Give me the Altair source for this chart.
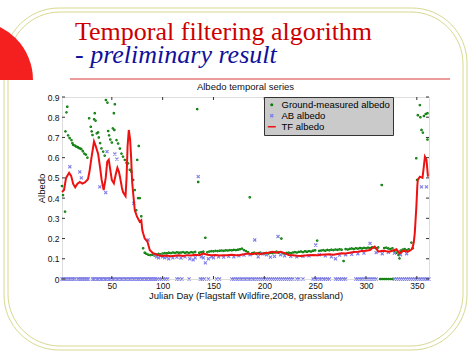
import altair as alt
import pandas as pd

SERIES = ["Ground-measured albedo", "AB albedo", "TF albedo"]

# TF albedo (temporal filtering) line: [day, albedo]
tf_line = [
    [1, 0.43], [3, 0.44], [5, 0.50], [8, 0.525], [10, 0.51], [12, 0.47], [14, 0.453],
    [16, 0.47], [18.5, 0.48], [21, 0.472], [23.5, 0.478], [26.5, 0.493], [28, 0.53],
    [30, 0.60], [32.5, 0.68], [34, 0.66], [36.5, 0.62], [38.5, 0.55], [40, 0.49],
    [42, 0.44], [44, 0.50], [45.5, 0.58], [47, 0.59], [48.5, 0.54], [50, 0.49],
    [52, 0.473], [54, 0.52], [55.5, 0.55], [57, 0.53], [58, 0.506], [60, 0.45],
    [61, 0.43], [63.5, 0.41], [64.5, 0.50], [65.5, 0.655], [66.7, 0.737], [68, 0.69],
    [69, 0.60], [70, 0.48], [71, 0.424], [72.6, 0.34], [74.8, 0.308], [77.5, 0.283],
    [79, 0.29], [80, 0.242], [80.8, 0.226], [82.4, 0.20], [85, 0.185], [87.3, 0.143],
    [90.6, 0.127], [95.5, 0.119], [99, 0.114], [104, 0.116], [108, 0.113], [112, 0.115],
    [116, 0.117], [120, 0.114], [124, 0.118], [128, 0.116], [132, 0.12], [136, 0.118],
    [140, 0.126], [144, 0.12], [148, 0.117], [152, 0.119], [156, 0.116], [160, 0.118],
    [164, 0.117], [168, 0.12], [172, 0.118], [176, 0.119], [180, 0.122], [184, 0.126],
    [188, 0.122], [192, 0.127], [196, 0.124], [200, 0.127], [204, 0.13], [208, 0.135],
    [212, 0.13], [216, 0.135], [220, 0.128], [224, 0.119], [228, 0.117], [232, 0.115],
    [236, 0.114], [240, 0.116], [244, 0.118], [248, 0.119], [252, 0.117], [256, 0.12],
    [260, 0.121], [264, 0.122], [268, 0.12], [272, 0.124], [276, 0.127], [280, 0.126],
    [284, 0.13], [288, 0.133], [292, 0.135], [296, 0.138], [300, 0.14], [304, 0.143],
    [306, 0.152], [308.6, 0.16], [311, 0.145], [312, 0.135], [315, 0.138], [317, 0.14],
    [320, 0.137], [323, 0.135], [326, 0.14], [330, 0.147], [333, 0.127], [335, 0.133],
    [336.6, 0.14], [339, 0.137], [341, 0.135], [344, 0.142], [345.7, 0.152], [347, 0.18],
    [348, 0.226], [349.6, 0.36], [350.5, 0.46], [351, 0.49], [353, 0.506], [355.6, 0.50],
    [357, 0.56], [358, 0.605], [359.5, 0.59], [361, 0.506],
]

# Ground-measured albedo: [day, albedo]
ground_pts = [
    [1, 0.46], [2, 0.415], [4, 0.333], [4.4, 0.73], [5.4, 0.824], [6.2, 0.852], [7, 0.71],
    [8.5, 0.697], [10.3, 0.687], [11.2, 0.672], [12, 0.663], [13.5, 0.66], [15, 0.655],
    [16.5, 0.652], [17.5, 0.648], [19, 0.645], [20, 0.642], [21.5, 0.632], [23, 0.62],
    [24.5, 0.615], [26, 0.60], [27.7, 0.795], [29.3, 0.753], [30.2, 0.73], [31, 0.712],
    [32.6, 0.79], [33.2, 0.82], [34, 0.783], [35.2, 0.72], [36.5, 0.725], [37.2, 0.70],
    [38.5, 0.672], [39.8, 0.646], [41.5, 0.63], [43, 0.61], [44.2, 0.885], [45.7, 0.872],
    [46.4, 0.732], [47.3, 0.71], [48.5, 0.69], [50, 0.675], [51, 0.745], [52, 0.82],
    [52.5, 0.737], [53, 0.864], [54.6, 0.687], [56.2, 0.67], [57.9, 0.645], [59.5, 0.62],
    [61, 0.605], [62.8, 0.589], [64.5, 0.575], [66, 0.572], [67.7, 0.54], [69.3, 0.53],
    [71, 0.49], [72.5, 0.44], [74, 0.34], [75, 0.589], [75.8, 0.40], [76.5, 0.658],
    [77.5, 0.40], [79, 0.31], [80.8, 0.152], [82.4, 0.13],
    [84, 0.125], [86, 0.12], [88, 0.118], [90, 0.12], [92, 0.117], [94, 0.121], [96, 0.124],
    [98, 0.122], [100, 0.126], [102, 0.128], [104, 0.127], [106, 0.13], [108, 0.128],
    [110, 0.131], [112, 0.129], [114, 0.132], [116, 0.13], [118, 0.131], [120, 0.133],
    [122, 0.13], [124, 0.132], [126, 0.129], [128, 0.133], [130, 0.131], [132, 0.134],
    [134, 0.84], [135, 0.48], [136, 0.13], [138, 0.133], [140, 0.135], [142, 0.204],
    [144, 0.132], [146, 0.136], [148, 0.138], [150, 0.137], [152, 0.139], [154, 0.138],
    [156, 0.14], [158, 0.141], [160, 0.139], [162, 0.142], [164, 0.141], [166, 0.143],
    [168, 0.142], [170, 0.144], [172, 0.143], [174, 0.145], [176, 0.147], [178, 0.15],
    [180, 0.143], [182, 0.138], [184, 0.132], [185.7, 0.404], [188, 0.128], [190, 0.13],
    [192, 0.125], [194, 0.128], [196, 0.13], [198, 0.124], [200, 0.127], [202, 0.129],
    [204, 0.126], [206, 0.13], [208, 0.128], [210, 0.132], [212, 0.135], [214, 0.13],
    [216.8, 0.20], [218, 0.128], [220, 0.126], [222, 0.129], [224, 0.13], [226, 0.127],
    [228, 0.131], [230, 0.133], [232, 0.131], [234, 0.134], [236, 0.136], [238, 0.133],
    [240, 0.137], [242, 0.135], [244, 0.138], [246, 0.136], [248, 0.14], [250, 0.142],
    [252, 0.19], [254, 0.139], [256, 0.141], [258, 0.143], [260, 0.14], [262, 0.144],
    [264, 0.142], [266, 0.145], [268, 0.143], [270, 0.146], [272, 0.144], [274, 0.147],
    [276, 0.145], [278, 0.089], [280, 0.148], [282, 0.146], [284, 0.149], [286, 0.151],
    [288, 0.148], [290, 0.152], [292, 0.15], [294, 0.153], [296, 0.151], [298, 0.154],
    [300, 0.152], [302, 0.155], [304, 0.153], [306, 0.157], [308, 0.155], [310, 0.152],
    [312, 0.156], [315.5, 0.465], [318, 0.153], [320, 0.155], [322, 0.151], [324, 0.148],
    [326, 0.152], [328, 0.14], [330, 0.13], [332, 0.119], [333, 0.102], [334, 0.14],
    [336, 0.145], [338, 0.148], [340, 0.143], [342, 0.147], [344.7, 0.18], [346, 0.152],
    [349.5, 0.597], [350.3, 0.49], [351, 0.81], [353, 0.86], [353.5, 0.80], [354.6, 0.737],
    [356, 0.724], [357, 0.806], [358.8, 0.816], [360.5, 0.82], [360.5, 0.69],
]
ground_zero_days = [314, 316, 318, 320, 322, 324, 326]

# AB albedo: [day, albedo]
ab_pts = [
    [8.7, 0.555], [18.5, 0.53], [20, 0.50], [38.2, 0.456], [44, 0.427], [45.3, 0.63],
    [53, 0.618], [55, 0.593], [71.6, 0.374], [85.7, 0.193],
    [92, 0.12], [94, 0.11], [96, 0.105], [98, 0.115], [100, 0.11], [102, 0.105],
    [104, 0.11], [106, 0.10], [110, 0.105], [114, 0.108], [118, 0.104], [122, 0.11],
    [126.7, 0.10], [130, 0.095], [132, 0.105], [135, 0.506], [138, 0.11], [140, 0.105],
    [142, 0.08], [145, 0.10], [148, 0.11], [150, 0.105], [155, 0.11], [160, 0.108],
    [165, 0.112], [170, 0.11], [175, 0.115], [180, 0.118], [186, 0.12], [190.6, 0.193],
    [194, 0.11], [198, 0.125], [202, 0.12], [206, 0.108], [210, 0.112], [213.5, 0.21],
    [216, 0.12], [220, 0.115], [226, 0.112], [232, 0.11], [238, 0.112], [244, 0.115],
    [250.6, 0.168], [254, 0.12], [260, 0.115], [266, 0.11], [270, 0.10], [274, 0.118],
    [280, 0.12], [286, 0.122], [292, 0.125], [298, 0.128], [304, 0.176], [310, 0.13],
    [316, 0.125], [322, 0.132], [328, 0.128], [334, 0.12], [340, 0.125],
    [354.6, 0.456], [359.5, 0.456],
]
ab_zero_days = [
    1, 2, 3, 5, 6, 7, 9, 10, 11, 13, 14, 17, 18, 19, 21, 22, 23, 25, 26, 27, 31, 32, 33, 35,
    36, 37, 39, 40, 41, 43, 44, 45, 47, 48, 49, 51, 52, 53, 55, 56, 57, 59, 60, 61, 63, 64,
    65, 67, 68, 69, 71, 72, 73, 75, 76, 77, 79, 80, 81, 83, 84, 85, 87, 88, 89, 91, 92, 93,
    95, 97, 99, 101, 103, 105, 114, 116, 119, 126, 137, 139, 141, 145, 153, 156, 168, 170,
    172, 174, 176, 178, 180, 182, 184, 186, 188, 190, 192, 194, 196, 198, 200, 202, 204,
    206, 208, 210, 212, 214, 216, 218, 220, 222, 224, 226, 228, 232, 234, 238, 248, 250,
    252, 254, 256, 258, 260, 262, 264, 270, 272, 274, 276, 278, 280, 290, 292, 294, 296,
    298, 300, 302, 304, 306, 308, 310, 328, 330, 332, 334, 336, 338, 340, 342, 344, 346,
    348, 350, 352, 354, 356, 358, 360, 362,
]

x_ticks = [50, 100, 150, 200, 250, 300, 350]
y_ticks = [0, 0.1, 0.2, 0.3, 0.4, 0.5, 0.6, 0.7, 0.8, 0.9]

# ---- tables ----
rows = []
for d, v in ground_pts:
    rows.append({"day": d, "val": v, "series": SERIES[0]})
for d in ground_zero_days:
    rows.append({"day": d, "val": 0.0, "series": SERIES[0]})
for d, v in ab_pts:
    rows.append({"day": d, "val": v, "series": SERIES[1]})
for d in ab_zero_days:
    rows.append({"day": d, "val": 0.0, "series": SERIES[1]})
pts_df = pd.DataFrame(rows)
tf_df = pd.DataFrame(tf_line, columns=["day", "val"])
xt_df = pd.DataFrame({"t": x_ticks})
yt_df = pd.DataFrame({"v": y_ticks})
one = pd.DataFrame({"k": [0]})

W, H = 367, 182
FONT = "Liberation Sans"
xs = alt.Scale(domain=[1, 362], nice=False, zero=False)
ys = alt.Scale(domain=[0, 0.9], nice=False)

xaxis = alt.Axis(values=x_ticks, title="Julian Day (Flagstaff Wildfire,2008, grassland)",
                 grid=False, domain=False, ticks=False, labelFontSize=8.5, labelFont=FONT,
                 labelColor="#111", labelPadding=2, titleFontSize=9.5, titleFont=FONT,
                 titleFontWeight="normal", titleColor="#111", titlePadding=1, labelFlush=False)
yaxis = alt.Axis(values=y_ticks, title="Albedo",
                 labelExpr="datum.value == 0 ? '0' : format(datum.value, '.1f')",
                 grid=False, domain=False, ticks=False, labelFontSize=8.5, labelFont=FONT,
                 labelColor="#111", labelPadding=3, titleFontSize=9.5, titleFont=FONT,
                 titleFontWeight="normal", titleColor="#111", titlePadding=1)

leg = alt.Legend(title=None, orient="none", legendX=202, legendY=0, fillColor="#cacaca",
                 strokeColor="#333", padding=3, labelFontSize=9.5, labelFont=FONT,
                 labelColor="#000", rowPadding=0, symbolStrokeWidth=1.5, labelOffset=5)

# ---- decorations ----
border_outer = alt.Chart(one).mark_rect(filled=False, stroke="#d8d890", strokeWidth=1,
                                        cornerRadius=55).encode(
    x=alt.value(-58), x2=alt.value(405), y=alt.value(-89), y2=alt.value(253))
border_inner = alt.Chart(one).mark_rect(filled=False, stroke="#d8d890", strokeWidth=1,
                                        cornerRadius=52).encode(
    x=alt.value(-54), x2=alt.value(401), y=alt.value(-85), y2=alt.value(249))
red_arc = alt.Chart(one).mark_arc(theta=0, theta2=1.5708, outerRadius=59,
                                  color="#f42020").encode(x=alt.value(-88), y=alt.value(-17))
underline = alt.Chart(one).mark_rule(color="#e47a7a", strokeWidth=1.6).encode(
    x=alt.value(8), x2=alt.value(388), y=alt.value(-18))
title1 = alt.Chart(one).mark_text(text="Temporal filtering algorithm", font="Liberation Serif",
                                  fontSize=26, color="#cc0000", align="left",
                                  baseline="alphabetic").encode(x=alt.value(13), y=alt.value(-57.5))
title2 = alt.Chart(one).mark_text(text="- preliminary result", font="Liberation Serif",
                                  fontSize=26, fontStyle="italic", color="#10109a", align="left",
                                  baseline="alphabetic").encode(x=alt.value(13), y=alt.value(-34))
plot_title = alt.Chart(one).mark_text(text="Albedo temporal series", font=FONT, fontSize=9.5,
                                      color="#111", align="center",
                                      baseline="alphabetic").encode(x=alt.value(W / 2),
                                                                    y=alt.value(-7))

# ---- data layers ----
points = alt.Chart(pts_df).mark_point(filled=False, strokeWidth=1.1, opacity=1).encode(
    x=alt.X("day:Q", scale=xs, axis=xaxis),
    y=alt.Y("val:Q", scale=ys, axis=yaxis),
    color=alt.Color("series:N", scale=alt.Scale(domain=SERIES,
                    range=["#0a7d0a", "#7f7fe8", "#ee1111"]), legend=leg),
    shape=alt.Shape("series:N", scale=alt.Scale(domain=SERIES,
                    range=["circle", "M-1,-1L1,1M-1,1L1,-1", "M-2,0L2,0"]), legend=leg),
    size=alt.Size("series:N", scale=alt.Scale(domain=SERIES, range=[2.5, 16, 45]), legend=leg),
)
line = alt.Chart(tf_df).mark_line(color="#ee1111", strokeWidth=2).encode(
    x=alt.X("day:Q", scale=xs, axis=xaxis), y=alt.Y("val:Q", scale=ys, axis=yaxis))

tick_b = alt.Chart(xt_df).mark_rule(color="#333").encode(
    x=alt.X("t:Q", scale=xs, axis=xaxis), y=alt.value(H), y2=alt.value(H - 3))
tick_t = alt.Chart(xt_df).mark_rule(color="#333").encode(
    x=alt.X("t:Q", scale=xs, axis=xaxis), y=alt.value(0), y2=alt.value(3))
tick_l = alt.Chart(yt_df).mark_rule(color="#333").encode(
    y=alt.Y("v:Q", scale=ys, axis=yaxis), x=alt.value(0), x2=alt.value(3))
tick_r = alt.Chart(yt_df).mark_rule(color="#333").encode(
    y=alt.Y("v:Q", scale=ys, axis=yaxis), x=alt.value(W), x2=alt.value(W - 3))

chart = alt.layer(
    border_outer, border_inner, red_arc, underline, title1, title2, plot_title,
    points, line, tick_b, tick_t, tick_l, tick_r,
).properties(
    width=W, height=H,
    padding={"left": 62, "top": 97, "right": 45, "bottom": 76},
    autosize=alt.AutoSizeParams(type="none"),
).configure_view(fill="#cacaca", stroke="#333", strokeWidth=1).configure(background="white")

chart.save("out.html", embed_options={"renderer": "svg", "actions": False})
